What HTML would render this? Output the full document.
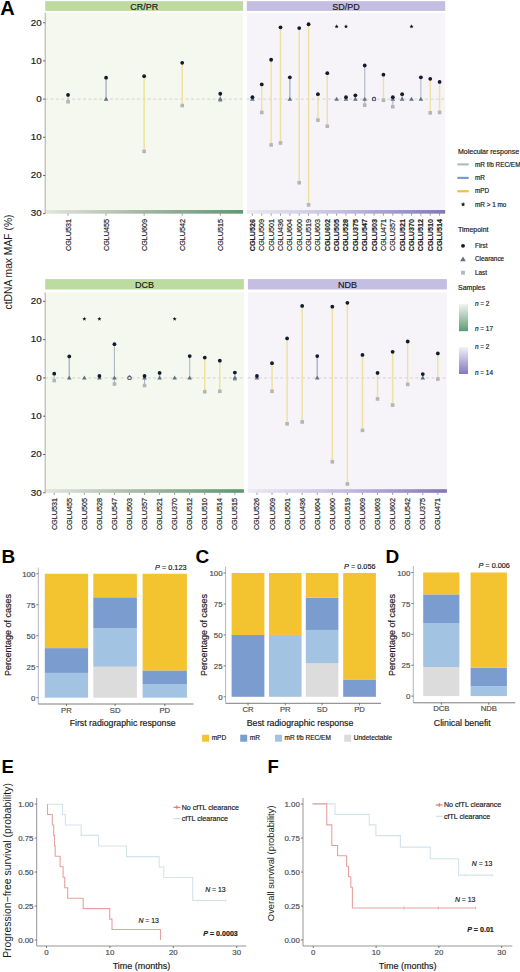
<!DOCTYPE html><html><head><meta charset="utf-8"><style>html,body{margin:0;padding:0;background:#fff;width:520px;height:972px;overflow:hidden}svg{display:block}</style></head><body><svg width="520" height="972" viewBox="0 0 520 972" font-family='"Liberation Sans", sans-serif'>
<defs><linearGradient id="gg" x1="0" x2="1" y1="0" y2="0"><stop offset="0" stop-color="#e3e6df"/><stop offset="0.5" stop-color="#a3b5a1"/><stop offset="1" stop-color="#5c9872"/></linearGradient><linearGradient id="gp" x1="0" x2="1" y1="0" y2="0"><stop offset="0" stop-color="#eceaf4"/><stop offset="0.5" stop-color="#c0bbe0"/><stop offset="1" stop-color="#7f76bd"/></linearGradient><linearGradient id="lg" x1="0" x2="0" y1="0" y2="1"><stop offset="0" stop-color="#f2f4f2"/><stop offset="1" stop-color="#5e9b74"/></linearGradient><linearGradient id="lp" x1="0" x2="0" y1="0" y2="1"><stop offset="0" stop-color="#f2f1f7"/><stop offset="1" stop-color="#8278bf"/></linearGradient></defs>
<rect x="0.00" y="0.00" width="520.00" height="972.00" fill="#ffffff" />
<text x="0.30" y="15.20" font-size="20" text-anchor="start" font-weight="bold" fill="#000" stroke="#000" stroke-width="0" >A</text>
<rect x="45.20" y="1.15" width="197.90" height="9.75" fill="#bddb9f" />
<text x="144.15" y="9.52" font-size="9" text-anchor="middle" font-weight="normal" fill="#1a1a1a" stroke="#1a1a1a" stroke-width="0.18" >CR/PR</text>
<rect x="45.20" y="12.80" width="197.90" height="200.84" fill="#f5f8ee" />
<rect x="45.20" y="210.04" width="197.90" height="3.60" fill="url(#gg)" />
<line x1="45.20" y1="99.10" x2="243.10" y2="99.10" stroke="#cbcbc6" stroke-width="0.8" stroke-dasharray="3,2.4"/>
<line x1="68.03" y1="213.64" x2="68.03" y2="215.64" stroke="#555" stroke-width="0.6" />
<text transform="translate(70.51,218.94) rotate(-90)" font-size="7.2" text-anchor="end" font-weight="normal" fill="#1a1a1a" stroke="#1a1a1a" stroke-width="0.18">CGLU531</text>
<line x1="68.03" y1="94.90" x2="68.03" y2="101.77" stroke="#b0bac6" stroke-width="1.1" />
<rect x="66.23" y="99.97" width="3.60" height="3.60" fill="#b2b6ba" />
<circle cx="68.03" cy="94.90" r="1.9" fill="#111a2e"/>
<line x1="106.09" y1="213.64" x2="106.09" y2="215.64" stroke="#555" stroke-width="0.6" />
<text transform="translate(108.57,218.94) rotate(-90)" font-size="7.2" text-anchor="end" font-weight="normal" fill="#1a1a1a" stroke="#1a1a1a" stroke-width="0.18">CGLU455</text>
<line x1="106.09" y1="77.72" x2="106.09" y2="99.10" stroke="#aeb7ca" stroke-width="1.5" />
<path d="M103.79,100.80 L108.39,100.80 L106.09,96.80 Z" fill="#5d7480"/>
<circle cx="106.09" cy="77.72" r="1.9" fill="#111a2e"/>
<line x1="144.15" y1="213.64" x2="144.15" y2="215.64" stroke="#555" stroke-width="0.6" />
<text transform="translate(146.63,218.94) rotate(-90)" font-size="7.2" text-anchor="end" font-weight="normal" fill="#1a1a1a" stroke="#1a1a1a" stroke-width="0.18">CGLU609</text>
<line x1="144.15" y1="76.19" x2="144.15" y2="151.41" stroke="#efe2a0" stroke-width="1.5" />
<rect x="142.35" y="149.61" width="3.60" height="3.60" fill="#b2b6ba" />
<circle cx="144.15" cy="76.19" r="1.9" fill="#111a2e"/>
<line x1="182.21" y1="213.64" x2="182.21" y2="215.64" stroke="#555" stroke-width="0.6" />
<text transform="translate(184.68,218.94) rotate(-90)" font-size="7.2" text-anchor="end" font-weight="normal" fill="#1a1a1a" stroke="#1a1a1a" stroke-width="0.18">CGLU542</text>
<line x1="182.21" y1="62.83" x2="182.21" y2="105.59" stroke="#efe2a0" stroke-width="1.5" />
<rect x="180.41" y="103.79" width="3.60" height="3.60" fill="#b2b6ba" />
<circle cx="182.21" cy="62.83" r="1.9" fill="#111a2e"/>
<line x1="220.27" y1="213.64" x2="220.27" y2="215.64" stroke="#555" stroke-width="0.6" />
<text transform="translate(222.74,218.94) rotate(-90)" font-size="7.2" text-anchor="end" font-weight="normal" fill="#1a1a1a" stroke="#1a1a1a" stroke-width="0.18">CGLU515</text>
<line x1="220.27" y1="93.75" x2="220.27" y2="100.25" stroke="#b0bac6" stroke-width="1.1" />
<rect x="218.47" y="98.45" width="3.60" height="3.60" fill="#b2b6ba" />
<path d="M217.97,100.80 L222.57,100.80 L220.27,96.80 Z" fill="#5d7480"/>
<circle cx="220.27" cy="93.75" r="1.9" fill="#111a2e"/>
<rect x="246.80" y="1.15" width="198.40" height="9.75" fill="#c4bee2" />
<text x="346.00" y="9.52" font-size="9" text-anchor="middle" font-weight="normal" fill="#1a1a1a" stroke="#1a1a1a" stroke-width="0.18" >SD/PD</text>
<rect x="246.80" y="12.80" width="198.40" height="200.84" fill="#f6f4f9" />
<rect x="246.80" y="210.04" width="198.40" height="3.60" fill="url(#gp)" />
<line x1="246.80" y1="99.10" x2="445.20" y2="99.10" stroke="#cbcbc6" stroke-width="0.8" stroke-dasharray="3,2.4"/>
<line x1="252.42" y1="213.64" x2="252.42" y2="215.64" stroke="#555" stroke-width="0.6" />
<text transform="translate(254.89,218.94) rotate(-90)" font-size="7.2" text-anchor="end" font-weight="bold" fill="#1a1a1a" stroke="#1a1a1a" stroke-width="0.18">CGLU526</text>
<line x1="252.42" y1="97.19" x2="252.42" y2="99.10" stroke="#aeb7ca" stroke-width="1.5" />
<path d="M250.12,100.80 L254.72,100.80 L252.42,96.80 Z" fill="#5d7480"/>
<circle cx="252.42" cy="97.19" r="1.9" fill="#111a2e"/>
<line x1="261.77" y1="213.64" x2="261.77" y2="215.64" stroke="#555" stroke-width="0.6" />
<text transform="translate(264.25,218.94) rotate(-90)" font-size="7.2" text-anchor="end" font-weight="normal" fill="#1a1a1a" stroke="#1a1a1a" stroke-width="0.18">CGLU509</text>
<line x1="261.77" y1="84.40" x2="261.77" y2="112.46" stroke="#efe2a0" stroke-width="1.5" />
<rect x="259.97" y="110.66" width="3.60" height="3.60" fill="#b2b6ba" />
<circle cx="261.77" cy="84.40" r="1.9" fill="#111a2e"/>
<line x1="271.13" y1="213.64" x2="271.13" y2="215.64" stroke="#555" stroke-width="0.6" />
<text transform="translate(273.61,218.94) rotate(-90)" font-size="7.2" text-anchor="end" font-weight="normal" fill="#1a1a1a" stroke="#1a1a1a" stroke-width="0.18">CGLU501</text>
<line x1="271.13" y1="59.77" x2="271.13" y2="144.92" stroke="#efe2a0" stroke-width="1.5" />
<rect x="269.33" y="143.12" width="3.60" height="3.60" fill="#b2b6ba" />
<circle cx="271.13" cy="59.77" r="1.9" fill="#111a2e"/>
<line x1="280.49" y1="213.64" x2="280.49" y2="215.64" stroke="#555" stroke-width="0.6" />
<text transform="translate(282.97,218.94) rotate(-90)" font-size="7.2" text-anchor="end" font-weight="normal" fill="#1a1a1a" stroke="#1a1a1a" stroke-width="0.18">CGLU436</text>
<line x1="280.49" y1="27.32" x2="280.49" y2="143.01" stroke="#efe2a0" stroke-width="1.5" />
<rect x="278.69" y="141.21" width="3.60" height="3.60" fill="#b2b6ba" />
<circle cx="280.49" cy="27.32" r="1.9" fill="#111a2e"/>
<line x1="289.85" y1="213.64" x2="289.85" y2="215.64" stroke="#555" stroke-width="0.6" />
<text transform="translate(292.33,218.94) rotate(-90)" font-size="7.2" text-anchor="end" font-weight="normal" fill="#1a1a1a" stroke="#1a1a1a" stroke-width="0.18">CGLU604</text>
<line x1="289.85" y1="77.34" x2="289.85" y2="99.10" stroke="#aeb7ca" stroke-width="1.5" />
<path d="M287.55,100.80 L292.15,100.80 L289.85,96.80 Z" fill="#5d7480"/>
<circle cx="289.85" cy="77.34" r="1.9" fill="#111a2e"/>
<line x1="299.21" y1="213.64" x2="299.21" y2="215.64" stroke="#555" stroke-width="0.6" />
<text transform="translate(301.68,218.94) rotate(-90)" font-size="7.2" text-anchor="end" font-weight="normal" fill="#1a1a1a" stroke="#1a1a1a" stroke-width="0.18">CGLU600</text>
<line x1="299.21" y1="28.09" x2="299.21" y2="182.71" stroke="#efe2a0" stroke-width="1.5" />
<rect x="297.41" y="180.91" width="3.60" height="3.60" fill="#b2b6ba" />
<circle cx="299.21" cy="28.09" r="1.9" fill="#111a2e"/>
<line x1="308.57" y1="213.64" x2="308.57" y2="215.64" stroke="#555" stroke-width="0.6" />
<text transform="translate(311.04,218.94) rotate(-90)" font-size="7.2" text-anchor="end" font-weight="normal" fill="#1a1a1a" stroke="#1a1a1a" stroke-width="0.18">CGLU519</text>
<line x1="308.57" y1="24.27" x2="308.57" y2="204.86" stroke="#efe2a0" stroke-width="1.5" />
<rect x="306.77" y="203.06" width="3.60" height="3.60" fill="#b2b6ba" />
<circle cx="308.57" cy="24.27" r="1.9" fill="#111a2e"/>
<line x1="317.92" y1="213.64" x2="317.92" y2="215.64" stroke="#555" stroke-width="0.6" />
<text transform="translate(320.40,218.94) rotate(-90)" font-size="7.2" text-anchor="end" font-weight="normal" fill="#1a1a1a" stroke="#1a1a1a" stroke-width="0.18">CGLU603</text>
<line x1="317.92" y1="94.14" x2="317.92" y2="120.10" stroke="#efe2a0" stroke-width="1.5" />
<rect x="316.12" y="118.30" width="3.60" height="3.60" fill="#b2b6ba" />
<circle cx="317.92" cy="94.14" r="1.9" fill="#111a2e"/>
<line x1="327.28" y1="213.64" x2="327.28" y2="215.64" stroke="#555" stroke-width="0.6" />
<text transform="translate(329.76,218.94) rotate(-90)" font-size="7.2" text-anchor="end" font-weight="bold" fill="#1a1a1a" stroke="#1a1a1a" stroke-width="0.18">CGLU602</text>
<line x1="327.28" y1="73.14" x2="327.28" y2="126.21" stroke="#efe2a0" stroke-width="1.5" />
<rect x="325.48" y="124.41" width="3.60" height="3.60" fill="#b2b6ba" />
<circle cx="327.28" cy="73.14" r="1.9" fill="#111a2e"/>
<line x1="336.64" y1="213.64" x2="336.64" y2="215.64" stroke="#555" stroke-width="0.6" />
<text transform="translate(339.12,218.94) rotate(-90)" font-size="7.2" text-anchor="end" font-weight="bold" fill="#1a1a1a" stroke="#1a1a1a" stroke-width="0.18">CGLU505</text>
<path d="M334.34,100.80 L338.94,100.80 L336.64,96.80 Z" fill="#5d7480"/>
<path d="M336.64,24.36 L337.20,25.79 L338.73,25.88 L337.55,26.85 L337.93,28.34 L336.64,27.51 L335.35,28.34 L335.74,26.85 L334.55,25.88 L336.08,25.79 Z" fill="#111"/>
<line x1="346.00" y1="213.64" x2="346.00" y2="215.64" stroke="#555" stroke-width="0.6" />
<text transform="translate(348.48,218.94) rotate(-90)" font-size="7.2" text-anchor="end" font-weight="bold" fill="#1a1a1a" stroke="#1a1a1a" stroke-width="0.18">CGLU528</text>
<path d="M343.70,100.80 L348.30,100.80 L346.00,96.80 Z" fill="#5d7480"/>
<circle cx="346.00" cy="97.19" r="1.9" fill="#111a2e"/>
<path d="M346.00,24.36 L346.56,25.79 L348.09,25.88 L346.90,26.85 L347.29,28.34 L346.00,27.51 L344.71,28.34 L345.10,26.85 L343.91,25.88 L345.44,25.79 Z" fill="#111"/>
<line x1="355.36" y1="213.64" x2="355.36" y2="215.64" stroke="#555" stroke-width="0.6" />
<text transform="translate(357.84,218.94) rotate(-90)" font-size="7.2" text-anchor="end" font-weight="bold" fill="#1a1a1a" stroke="#1a1a1a" stroke-width="0.18">CGLU375</text>
<line x1="355.36" y1="95.28" x2="355.36" y2="99.10" stroke="#aeb7ca" stroke-width="1.5" />
<path d="M353.06,100.80 L357.66,100.80 L355.36,96.80 Z" fill="#5d7480"/>
<circle cx="355.36" cy="95.28" r="1.9" fill="#111a2e"/>
<line x1="364.72" y1="213.64" x2="364.72" y2="215.64" stroke="#555" stroke-width="0.6" />
<text transform="translate(367.19,218.94) rotate(-90)" font-size="7.2" text-anchor="end" font-weight="bold" fill="#1a1a1a" stroke="#1a1a1a" stroke-width="0.18">CGLU547</text>
<line x1="364.72" y1="65.50" x2="364.72" y2="105.21" stroke="#b0bac6" stroke-width="1.1" />
<rect x="362.92" y="103.41" width="3.60" height="3.60" fill="#b2b6ba" />
<path d="M362.42,100.80 L367.02,100.80 L364.72,96.80 Z" fill="#5d7480"/>
<circle cx="364.72" cy="65.50" r="1.9" fill="#111a2e"/>
<line x1="374.08" y1="213.64" x2="374.08" y2="215.64" stroke="#555" stroke-width="0.6" />
<text transform="translate(376.55,218.94) rotate(-90)" font-size="7.2" text-anchor="end" font-weight="bold" fill="#1a1a1a" stroke="#1a1a1a" stroke-width="0.18">CGLU503</text>
<path d="M371.78,100.80 L376.38,100.80 L374.08,96.80 Z" fill="#5d7480"/>
<circle cx="374.08" cy="98.72" r="1.9" fill="#111a2e"/>
<circle cx="374.08" cy="99.10" r="2.1" fill="#5a6070"/>
<circle cx="374.08" cy="99.10" r="1.2" fill="#e4e4ea"/>
<line x1="383.43" y1="213.64" x2="383.43" y2="215.64" stroke="#555" stroke-width="0.6" />
<text transform="translate(385.91,218.94) rotate(-90)" font-size="7.2" text-anchor="end" font-weight="normal" fill="#1a1a1a" stroke="#1a1a1a" stroke-width="0.18">CGLU471</text>
<line x1="383.43" y1="74.66" x2="383.43" y2="100.25" stroke="#efe2a0" stroke-width="1.5" />
<rect x="381.63" y="98.45" width="3.60" height="3.60" fill="#b2b6ba" />
<circle cx="383.43" cy="74.66" r="1.9" fill="#111a2e"/>
<line x1="392.79" y1="213.64" x2="392.79" y2="215.64" stroke="#555" stroke-width="0.6" />
<text transform="translate(395.27,218.94) rotate(-90)" font-size="7.2" text-anchor="end" font-weight="normal" fill="#1a1a1a" stroke="#1a1a1a" stroke-width="0.18">CGLU357</text>
<line x1="392.79" y1="97.19" x2="392.79" y2="106.74" stroke="#b0bac6" stroke-width="1.1" />
<rect x="390.99" y="104.94" width="3.60" height="3.60" fill="#b2b6ba" />
<path d="M390.49,100.80 L395.09,100.80 L392.79,96.80 Z" fill="#5d7480"/>
<circle cx="392.79" cy="97.19" r="1.9" fill="#111a2e"/>
<line x1="402.15" y1="213.64" x2="402.15" y2="215.64" stroke="#555" stroke-width="0.6" />
<text transform="translate(404.63,218.94) rotate(-90)" font-size="7.2" text-anchor="end" font-weight="bold" fill="#1a1a1a" stroke="#1a1a1a" stroke-width="0.18">CGLU521</text>
<line x1="402.15" y1="94.14" x2="402.15" y2="99.10" stroke="#aeb7ca" stroke-width="1.5" />
<path d="M399.85,100.80 L404.45,100.80 L402.15,96.80 Z" fill="#5d7480"/>
<circle cx="402.15" cy="94.14" r="1.9" fill="#111a2e"/>
<line x1="411.51" y1="213.64" x2="411.51" y2="215.64" stroke="#555" stroke-width="0.6" />
<text transform="translate(413.99,218.94) rotate(-90)" font-size="7.2" text-anchor="end" font-weight="bold" fill="#1a1a1a" stroke="#1a1a1a" stroke-width="0.18">CGLU370</text>
<path d="M409.21,100.80 L413.81,100.80 L411.51,96.80 Z" fill="#5d7480"/>
<path d="M411.51,24.36 L412.07,25.79 L413.60,25.88 L412.41,26.85 L412.80,28.34 L411.51,27.51 L410.22,28.34 L410.61,26.85 L409.42,25.88 L410.95,25.79 Z" fill="#111"/>
<line x1="420.87" y1="213.64" x2="420.87" y2="215.64" stroke="#555" stroke-width="0.6" />
<text transform="translate(423.34,218.94) rotate(-90)" font-size="7.2" text-anchor="end" font-weight="bold" fill="#1a1a1a" stroke="#1a1a1a" stroke-width="0.18">CGLU512</text>
<line x1="420.87" y1="77.34" x2="420.87" y2="99.10" stroke="#b0bac6" stroke-width="1.1" />
<path d="M418.57,100.80 L423.17,100.80 L420.87,96.80 Z" fill="#5d7480"/>
<circle cx="420.87" cy="77.34" r="1.9" fill="#111a2e"/>
<line x1="430.23" y1="213.64" x2="430.23" y2="215.64" stroke="#555" stroke-width="0.6" />
<text transform="translate(432.70,218.94) rotate(-90)" font-size="7.2" text-anchor="end" font-weight="bold" fill="#1a1a1a" stroke="#1a1a1a" stroke-width="0.18">CGLU510</text>
<line x1="430.23" y1="78.86" x2="430.23" y2="112.84" stroke="#efe2a0" stroke-width="1.5" />
<rect x="428.43" y="111.04" width="3.60" height="3.60" fill="#b2b6ba" />
<circle cx="430.23" cy="78.86" r="1.9" fill="#111a2e"/>
<line x1="439.58" y1="213.64" x2="439.58" y2="215.64" stroke="#555" stroke-width="0.6" />
<text transform="translate(442.06,218.94) rotate(-90)" font-size="7.2" text-anchor="end" font-weight="bold" fill="#1a1a1a" stroke="#1a1a1a" stroke-width="0.18">CGLU514</text>
<line x1="439.58" y1="81.92" x2="439.58" y2="112.46" stroke="#efe2a0" stroke-width="1.5" />
<rect x="437.78" y="110.66" width="3.60" height="3.60" fill="#b2b6ba" />
<circle cx="439.58" cy="81.92" r="1.9" fill="#111a2e"/>
<line x1="45.20" y1="12.80" x2="45.20" y2="213.64" stroke="#9a9a9a" stroke-width="0.8" />
<line x1="43.20" y1="22.74" x2="45.20" y2="22.74" stroke="#333" stroke-width="0.8" />
<text x="41.60" y="25.51" font-size="9.8" text-anchor="end" font-weight="normal" fill="#1a1a1a" stroke="#1a1a1a" stroke-width="0.18" >20</text>
<line x1="43.20" y1="60.92" x2="45.20" y2="60.92" stroke="#333" stroke-width="0.8" />
<text x="41.60" y="63.69" font-size="9.8" text-anchor="end" font-weight="normal" fill="#1a1a1a" stroke="#1a1a1a" stroke-width="0.18" >10</text>
<line x1="43.20" y1="99.10" x2="45.20" y2="99.10" stroke="#333" stroke-width="0.8" />
<text x="41.60" y="101.87" font-size="9.8" text-anchor="end" font-weight="normal" fill="#1a1a1a" stroke="#1a1a1a" stroke-width="0.18" >0</text>
<line x1="43.20" y1="137.28" x2="45.20" y2="137.28" stroke="#333" stroke-width="0.8" />
<text x="41.60" y="140.05" font-size="9.8" text-anchor="end" font-weight="normal" fill="#1a1a1a" stroke="#1a1a1a" stroke-width="0.18" >10</text>
<line x1="43.20" y1="175.46" x2="45.20" y2="175.46" stroke="#333" stroke-width="0.8" />
<text x="41.60" y="178.23" font-size="9.8" text-anchor="end" font-weight="normal" fill="#1a1a1a" stroke="#1a1a1a" stroke-width="0.18" >20</text>
<line x1="43.20" y1="213.64" x2="45.20" y2="213.64" stroke="#333" stroke-width="0.8" />
<text x="41.60" y="216.41" font-size="9.8" text-anchor="end" font-weight="normal" fill="#1a1a1a" stroke="#1a1a1a" stroke-width="0.18" >30</text>
<rect x="45.20" y="279.10" width="198.70" height="10.40" fill="#bddb9f" />
<text x="144.55" y="287.80" font-size="9" text-anchor="middle" font-weight="normal" fill="#1a1a1a" stroke="#1a1a1a" stroke-width="0.18" >DCB</text>
<rect x="45.20" y="292.50" width="198.70" height="200.30" fill="#f5f8ee" />
<rect x="45.20" y="489.20" width="198.70" height="3.60" fill="url(#gg)" />
<line x1="45.20" y1="377.90" x2="243.90" y2="377.90" stroke="#cbcbc6" stroke-width="0.8" stroke-dasharray="3,2.4"/>
<line x1="54.23" y1="492.80" x2="54.23" y2="494.80" stroke="#555" stroke-width="0.6" />
<text transform="translate(56.71,498.10) rotate(-90)" font-size="7.2" text-anchor="end" font-weight="normal" fill="#1a1a1a" stroke="#1a1a1a" stroke-width="0.18">CGLU531</text>
<line x1="54.23" y1="373.69" x2="54.23" y2="380.58" stroke="#b0bac6" stroke-width="1.1" />
<rect x="52.43" y="378.78" width="3.60" height="3.60" fill="#b2b6ba" />
<circle cx="54.23" cy="373.69" r="1.9" fill="#111a2e"/>
<line x1="69.28" y1="492.80" x2="69.28" y2="494.80" stroke="#555" stroke-width="0.6" />
<text transform="translate(71.76,498.10) rotate(-90)" font-size="7.2" text-anchor="end" font-weight="normal" fill="#1a1a1a" stroke="#1a1a1a" stroke-width="0.18">CGLU455</text>
<line x1="69.28" y1="356.45" x2="69.28" y2="377.90" stroke="#aeb7ca" stroke-width="1.5" />
<path d="M66.98,379.60 L71.58,379.60 L69.28,375.60 Z" fill="#5d7480"/>
<circle cx="69.28" cy="356.45" r="1.9" fill="#111a2e"/>
<line x1="84.34" y1="492.80" x2="84.34" y2="494.80" stroke="#555" stroke-width="0.6" />
<text transform="translate(86.81,498.10) rotate(-90)" font-size="7.2" text-anchor="end" font-weight="normal" fill="#1a1a1a" stroke="#1a1a1a" stroke-width="0.18">CGLU505</text>
<path d="M82.04,379.60 L86.64,379.60 L84.34,375.60 Z" fill="#5d7480"/>
<path d="M84.34,316.72 L84.90,318.15 L86.43,318.24 L85.24,319.21 L85.63,320.70 L84.34,319.87 L83.04,320.70 L83.43,319.21 L82.25,318.24 L83.78,318.15 Z" fill="#111"/>
<line x1="99.39" y1="492.80" x2="99.39" y2="494.80" stroke="#555" stroke-width="0.6" />
<text transform="translate(101.87,498.10) rotate(-90)" font-size="7.2" text-anchor="end" font-weight="normal" fill="#1a1a1a" stroke="#1a1a1a" stroke-width="0.18">CGLU528</text>
<path d="M97.09,379.60 L101.69,379.60 L99.39,375.60 Z" fill="#5d7480"/>
<circle cx="99.39" cy="375.98" r="1.9" fill="#111a2e"/>
<path d="M99.39,316.72 L99.95,318.15 L101.48,318.24 L100.29,319.21 L100.68,320.70 L99.39,319.87 L98.10,320.70 L98.49,319.21 L97.30,318.24 L98.83,318.15 Z" fill="#111"/>
<line x1="114.44" y1="492.80" x2="114.44" y2="494.80" stroke="#555" stroke-width="0.6" />
<text transform="translate(116.92,498.10) rotate(-90)" font-size="7.2" text-anchor="end" font-weight="normal" fill="#1a1a1a" stroke="#1a1a1a" stroke-width="0.18">CGLU547</text>
<line x1="114.44" y1="344.20" x2="114.44" y2="384.03" stroke="#b0bac6" stroke-width="1.1" />
<rect x="112.64" y="382.23" width="3.60" height="3.60" fill="#b2b6ba" />
<path d="M112.14,379.60 L116.74,379.60 L114.44,375.60 Z" fill="#5d7480"/>
<circle cx="114.44" cy="344.20" r="1.9" fill="#111a2e"/>
<line x1="129.50" y1="492.80" x2="129.50" y2="494.80" stroke="#555" stroke-width="0.6" />
<text transform="translate(131.97,498.10) rotate(-90)" font-size="7.2" text-anchor="end" font-weight="normal" fill="#1a1a1a" stroke="#1a1a1a" stroke-width="0.18">CGLU503</text>
<path d="M127.20,379.60 L131.80,379.60 L129.50,375.60 Z" fill="#5d7480"/>
<circle cx="129.50" cy="377.52" r="1.9" fill="#111a2e"/>
<circle cx="129.50" cy="377.90" r="2.1" fill="#5a6070"/>
<circle cx="129.50" cy="377.90" r="1.2" fill="#e4e4ea"/>
<line x1="144.55" y1="492.80" x2="144.55" y2="494.80" stroke="#555" stroke-width="0.6" />
<text transform="translate(147.03,498.10) rotate(-90)" font-size="7.2" text-anchor="end" font-weight="normal" fill="#1a1a1a" stroke="#1a1a1a" stroke-width="0.18">CGLU357</text>
<line x1="144.55" y1="375.98" x2="144.55" y2="385.56" stroke="#b0bac6" stroke-width="1.1" />
<rect x="142.75" y="383.76" width="3.60" height="3.60" fill="#b2b6ba" />
<path d="M142.25,379.60 L146.85,379.60 L144.55,375.60 Z" fill="#5d7480"/>
<circle cx="144.55" cy="375.98" r="1.9" fill="#111a2e"/>
<line x1="159.60" y1="492.80" x2="159.60" y2="494.80" stroke="#555" stroke-width="0.6" />
<text transform="translate(162.08,498.10) rotate(-90)" font-size="7.2" text-anchor="end" font-weight="normal" fill="#1a1a1a" stroke="#1a1a1a" stroke-width="0.18">CGLU521</text>
<line x1="159.60" y1="372.92" x2="159.60" y2="377.90" stroke="#aeb7ca" stroke-width="1.5" />
<path d="M157.30,379.60 L161.90,379.60 L159.60,375.60 Z" fill="#5d7480"/>
<circle cx="159.60" cy="372.92" r="1.9" fill="#111a2e"/>
<line x1="174.66" y1="492.80" x2="174.66" y2="494.80" stroke="#555" stroke-width="0.6" />
<text transform="translate(177.13,498.10) rotate(-90)" font-size="7.2" text-anchor="end" font-weight="normal" fill="#1a1a1a" stroke="#1a1a1a" stroke-width="0.18">CGLU370</text>
<path d="M172.36,379.60 L176.96,379.60 L174.66,375.60 Z" fill="#5d7480"/>
<path d="M174.66,316.72 L175.21,318.15 L176.75,318.24 L175.56,319.21 L175.95,320.70 L174.66,319.87 L173.36,320.70 L173.75,319.21 L172.56,318.24 L174.10,318.15 Z" fill="#111"/>
<line x1="189.71" y1="492.80" x2="189.71" y2="494.80" stroke="#555" stroke-width="0.6" />
<text transform="translate(192.19,498.10) rotate(-90)" font-size="7.2" text-anchor="end" font-weight="normal" fill="#1a1a1a" stroke="#1a1a1a" stroke-width="0.18">CGLU512</text>
<line x1="189.71" y1="356.07" x2="189.71" y2="377.90" stroke="#b0bac6" stroke-width="1.1" />
<path d="M187.41,379.60 L192.01,379.60 L189.71,375.60 Z" fill="#5d7480"/>
<circle cx="189.71" cy="356.07" r="1.9" fill="#111a2e"/>
<line x1="204.76" y1="492.80" x2="204.76" y2="494.80" stroke="#555" stroke-width="0.6" />
<text transform="translate(207.24,498.10) rotate(-90)" font-size="7.2" text-anchor="end" font-weight="normal" fill="#1a1a1a" stroke="#1a1a1a" stroke-width="0.18">CGLU510</text>
<line x1="204.76" y1="357.60" x2="204.76" y2="391.69" stroke="#efe2a0" stroke-width="1.5" />
<rect x="202.96" y="389.89" width="3.60" height="3.60" fill="#b2b6ba" />
<circle cx="204.76" cy="357.60" r="1.9" fill="#111a2e"/>
<line x1="219.82" y1="492.80" x2="219.82" y2="494.80" stroke="#555" stroke-width="0.6" />
<text transform="translate(222.29,498.10) rotate(-90)" font-size="7.2" text-anchor="end" font-weight="normal" fill="#1a1a1a" stroke="#1a1a1a" stroke-width="0.18">CGLU514</text>
<line x1="219.82" y1="360.66" x2="219.82" y2="391.30" stroke="#efe2a0" stroke-width="1.5" />
<rect x="218.02" y="389.50" width="3.60" height="3.60" fill="#b2b6ba" />
<circle cx="219.82" cy="360.66" r="1.9" fill="#111a2e"/>
<line x1="234.87" y1="492.80" x2="234.87" y2="494.80" stroke="#555" stroke-width="0.6" />
<text transform="translate(237.34,498.10) rotate(-90)" font-size="7.2" text-anchor="end" font-weight="normal" fill="#1a1a1a" stroke="#1a1a1a" stroke-width="0.18">CGLU515</text>
<line x1="234.87" y1="372.54" x2="234.87" y2="379.05" stroke="#b0bac6" stroke-width="1.1" />
<rect x="233.07" y="377.25" width="3.60" height="3.60" fill="#b2b6ba" />
<path d="M232.57,379.60 L237.17,379.60 L234.87,375.60 Z" fill="#5d7480"/>
<circle cx="234.87" cy="372.54" r="1.9" fill="#111a2e"/>
<rect x="247.90" y="279.10" width="199.00" height="10.40" fill="#c4bee2" />
<text x="347.40" y="287.80" font-size="9" text-anchor="middle" font-weight="normal" fill="#1a1a1a" stroke="#1a1a1a" stroke-width="0.18" >NDB</text>
<rect x="247.90" y="292.50" width="199.00" height="200.30" fill="#f6f4f9" />
<rect x="247.90" y="489.20" width="199.00" height="3.60" fill="url(#gp)" />
<line x1="247.90" y1="377.90" x2="446.90" y2="377.90" stroke="#cbcbc6" stroke-width="0.8" stroke-dasharray="3,2.4"/>
<line x1="256.95" y1="492.80" x2="256.95" y2="494.80" stroke="#555" stroke-width="0.6" />
<text transform="translate(259.42,498.10) rotate(-90)" font-size="7.2" text-anchor="end" font-weight="normal" fill="#1a1a1a" stroke="#1a1a1a" stroke-width="0.18">CGLU526</text>
<line x1="256.95" y1="375.98" x2="256.95" y2="377.90" stroke="#aeb7ca" stroke-width="1.5" />
<path d="M254.65,379.60 L259.25,379.60 L256.95,375.60 Z" fill="#5d7480"/>
<circle cx="256.95" cy="375.98" r="1.9" fill="#111a2e"/>
<line x1="272.02" y1="492.80" x2="272.02" y2="494.80" stroke="#555" stroke-width="0.6" />
<text transform="translate(274.50,498.10) rotate(-90)" font-size="7.2" text-anchor="end" font-weight="normal" fill="#1a1a1a" stroke="#1a1a1a" stroke-width="0.18">CGLU509</text>
<line x1="272.02" y1="363.15" x2="272.02" y2="391.30" stroke="#efe2a0" stroke-width="1.5" />
<rect x="270.22" y="389.50" width="3.60" height="3.60" fill="#b2b6ba" />
<circle cx="272.02" cy="363.15" r="1.9" fill="#111a2e"/>
<line x1="287.10" y1="492.80" x2="287.10" y2="494.80" stroke="#555" stroke-width="0.6" />
<text transform="translate(289.57,498.10) rotate(-90)" font-size="7.2" text-anchor="end" font-weight="normal" fill="#1a1a1a" stroke="#1a1a1a" stroke-width="0.18">CGLU501</text>
<line x1="287.10" y1="338.45" x2="287.10" y2="423.86" stroke="#efe2a0" stroke-width="1.5" />
<rect x="285.30" y="422.06" width="3.60" height="3.60" fill="#b2b6ba" />
<circle cx="287.10" cy="338.45" r="1.9" fill="#111a2e"/>
<line x1="302.17" y1="492.80" x2="302.17" y2="494.80" stroke="#555" stroke-width="0.6" />
<text transform="translate(304.65,498.10) rotate(-90)" font-size="7.2" text-anchor="end" font-weight="normal" fill="#1a1a1a" stroke="#1a1a1a" stroke-width="0.18">CGLU436</text>
<line x1="302.17" y1="305.90" x2="302.17" y2="421.94" stroke="#efe2a0" stroke-width="1.5" />
<rect x="300.37" y="420.14" width="3.60" height="3.60" fill="#b2b6ba" />
<circle cx="302.17" cy="305.90" r="1.9" fill="#111a2e"/>
<line x1="317.25" y1="492.80" x2="317.25" y2="494.80" stroke="#555" stroke-width="0.6" />
<text transform="translate(319.73,498.10) rotate(-90)" font-size="7.2" text-anchor="end" font-weight="normal" fill="#1a1a1a" stroke="#1a1a1a" stroke-width="0.18">CGLU604</text>
<line x1="317.25" y1="356.07" x2="317.25" y2="377.90" stroke="#aeb7ca" stroke-width="1.5" />
<path d="M314.95,379.60 L319.55,379.60 L317.25,375.60 Z" fill="#5d7480"/>
<circle cx="317.25" cy="356.07" r="1.9" fill="#111a2e"/>
<line x1="332.32" y1="492.80" x2="332.32" y2="494.80" stroke="#555" stroke-width="0.6" />
<text transform="translate(334.80,498.10) rotate(-90)" font-size="7.2" text-anchor="end" font-weight="normal" fill="#1a1a1a" stroke="#1a1a1a" stroke-width="0.18">CGLU600</text>
<line x1="332.32" y1="306.66" x2="332.32" y2="461.78" stroke="#efe2a0" stroke-width="1.5" />
<rect x="330.52" y="459.98" width="3.60" height="3.60" fill="#b2b6ba" />
<circle cx="332.32" cy="306.66" r="1.9" fill="#111a2e"/>
<line x1="347.40" y1="492.80" x2="347.40" y2="494.80" stroke="#555" stroke-width="0.6" />
<text transform="translate(349.88,498.10) rotate(-90)" font-size="7.2" text-anchor="end" font-weight="normal" fill="#1a1a1a" stroke="#1a1a1a" stroke-width="0.18">CGLU519</text>
<line x1="347.40" y1="302.83" x2="347.40" y2="483.99" stroke="#efe2a0" stroke-width="1.5" />
<rect x="345.60" y="482.19" width="3.60" height="3.60" fill="#b2b6ba" />
<circle cx="347.40" cy="302.83" r="1.9" fill="#111a2e"/>
<line x1="362.48" y1="492.80" x2="362.48" y2="494.80" stroke="#555" stroke-width="0.6" />
<text transform="translate(364.95,498.10) rotate(-90)" font-size="7.2" text-anchor="end" font-weight="normal" fill="#1a1a1a" stroke="#1a1a1a" stroke-width="0.18">CGLU609</text>
<line x1="362.48" y1="354.92" x2="362.48" y2="430.37" stroke="#efe2a0" stroke-width="1.5" />
<rect x="360.68" y="428.57" width="3.60" height="3.60" fill="#b2b6ba" />
<circle cx="362.48" cy="354.92" r="1.9" fill="#111a2e"/>
<line x1="377.55" y1="492.80" x2="377.55" y2="494.80" stroke="#555" stroke-width="0.6" />
<text transform="translate(380.03,498.10) rotate(-90)" font-size="7.2" text-anchor="end" font-weight="normal" fill="#1a1a1a" stroke="#1a1a1a" stroke-width="0.18">CGLU603</text>
<line x1="377.55" y1="372.92" x2="377.55" y2="398.96" stroke="#efe2a0" stroke-width="1.5" />
<rect x="375.75" y="397.16" width="3.60" height="3.60" fill="#b2b6ba" />
<circle cx="377.55" cy="372.92" r="1.9" fill="#111a2e"/>
<line x1="392.63" y1="492.80" x2="392.63" y2="494.80" stroke="#555" stroke-width="0.6" />
<text transform="translate(395.10,498.10) rotate(-90)" font-size="7.2" text-anchor="end" font-weight="normal" fill="#1a1a1a" stroke="#1a1a1a" stroke-width="0.18">CGLU602</text>
<line x1="392.63" y1="351.86" x2="392.63" y2="405.09" stroke="#efe2a0" stroke-width="1.5" />
<rect x="390.83" y="403.29" width="3.60" height="3.60" fill="#b2b6ba" />
<circle cx="392.63" cy="351.86" r="1.9" fill="#111a2e"/>
<line x1="407.70" y1="492.80" x2="407.70" y2="494.80" stroke="#555" stroke-width="0.6" />
<text transform="translate(410.18,498.10) rotate(-90)" font-size="7.2" text-anchor="end" font-weight="normal" fill="#1a1a1a" stroke="#1a1a1a" stroke-width="0.18">CGLU542</text>
<line x1="407.70" y1="341.51" x2="407.70" y2="384.41" stroke="#efe2a0" stroke-width="1.5" />
<rect x="405.90" y="382.61" width="3.60" height="3.60" fill="#b2b6ba" />
<circle cx="407.70" cy="341.51" r="1.9" fill="#111a2e"/>
<line x1="422.78" y1="492.80" x2="422.78" y2="494.80" stroke="#555" stroke-width="0.6" />
<text transform="translate(425.26,498.10) rotate(-90)" font-size="7.2" text-anchor="end" font-weight="normal" fill="#1a1a1a" stroke="#1a1a1a" stroke-width="0.18">CGLU375</text>
<line x1="422.78" y1="374.07" x2="422.78" y2="377.90" stroke="#aeb7ca" stroke-width="1.5" />
<path d="M420.48,379.60 L425.08,379.60 L422.78,375.60 Z" fill="#5d7480"/>
<circle cx="422.78" cy="374.07" r="1.9" fill="#111a2e"/>
<line x1="437.85" y1="492.80" x2="437.85" y2="494.80" stroke="#555" stroke-width="0.6" />
<text transform="translate(440.33,498.10) rotate(-90)" font-size="7.2" text-anchor="end" font-weight="normal" fill="#1a1a1a" stroke="#1a1a1a" stroke-width="0.18">CGLU471</text>
<line x1="437.85" y1="353.39" x2="437.85" y2="379.05" stroke="#efe2a0" stroke-width="1.5" />
<rect x="436.05" y="377.25" width="3.60" height="3.60" fill="#b2b6ba" />
<circle cx="437.85" cy="353.39" r="1.9" fill="#111a2e"/>
<line x1="45.20" y1="292.50" x2="45.20" y2="492.80" stroke="#9a9a9a" stroke-width="0.8" />
<line x1="43.20" y1="301.30" x2="45.20" y2="301.30" stroke="#333" stroke-width="0.8" />
<text x="41.60" y="304.07" font-size="9.8" text-anchor="end" font-weight="normal" fill="#1a1a1a" stroke="#1a1a1a" stroke-width="0.18" >20</text>
<line x1="43.20" y1="339.60" x2="45.20" y2="339.60" stroke="#333" stroke-width="0.8" />
<text x="41.60" y="342.37" font-size="9.8" text-anchor="end" font-weight="normal" fill="#1a1a1a" stroke="#1a1a1a" stroke-width="0.18" >10</text>
<line x1="43.20" y1="377.90" x2="45.20" y2="377.90" stroke="#333" stroke-width="0.8" />
<text x="41.60" y="380.67" font-size="9.8" text-anchor="end" font-weight="normal" fill="#1a1a1a" stroke="#1a1a1a" stroke-width="0.18" >0</text>
<line x1="43.20" y1="416.20" x2="45.20" y2="416.20" stroke="#333" stroke-width="0.8" />
<text x="41.60" y="418.97" font-size="9.8" text-anchor="end" font-weight="normal" fill="#1a1a1a" stroke="#1a1a1a" stroke-width="0.18" >10</text>
<line x1="43.20" y1="454.50" x2="45.20" y2="454.50" stroke="#333" stroke-width="0.8" />
<text x="41.60" y="457.27" font-size="9.8" text-anchor="end" font-weight="normal" fill="#1a1a1a" stroke="#1a1a1a" stroke-width="0.18" >20</text>
<line x1="43.20" y1="492.80" x2="45.20" y2="492.80" stroke="#333" stroke-width="0.8" />
<text x="41.60" y="495.57" font-size="9.8" text-anchor="end" font-weight="normal" fill="#1a1a1a" stroke="#1a1a1a" stroke-width="0.18" >30</text>
<text transform="translate(12.3,262) rotate(-90)" font-size="10.3" text-anchor="middle" fill="#1a1a1a">ctDNA max MAF (%)</text>
<text x="458.00" y="153.91" font-size="7" text-anchor="start" font-weight="normal" fill="#1a1a1a" stroke="#1a1a1a" stroke-width="0.18" >Molecular response</text>
<line x1="457.30" y1="164.40" x2="468.70" y2="164.40" stroke="#b0bac6" stroke-width="2.2" />
<text x="475.00" y="166.60" font-size="6.4" text-anchor="start" font-weight="normal" fill="#1a1a1a" stroke="#1a1a1a" stroke-width="0.18" >mR f/b REC/EM</text>
<line x1="457.30" y1="177.90" x2="468.70" y2="177.90" stroke="#7b9ccf" stroke-width="2.2" />
<text x="475.00" y="180.10" font-size="6.4" text-anchor="start" font-weight="normal" fill="#1a1a1a" stroke="#1a1a1a" stroke-width="0.18" >mR</text>
<line x1="457.30" y1="191.25" x2="468.70" y2="191.25" stroke="#eec040" stroke-width="2.2" />
<text x="475.00" y="193.45" font-size="6.4" text-anchor="start" font-weight="normal" fill="#1a1a1a" stroke="#1a1a1a" stroke-width="0.18" >mPD</text>
<path d="M463.10,202.00 L463.69,203.59 L465.38,203.66 L464.05,204.71 L464.51,206.34 L463.10,205.40 L461.69,206.34 L462.15,204.71 L460.82,203.66 L462.51,203.59 Z" fill="#111"/>
<text x="475.00" y="206.60" font-size="6.4" text-anchor="start" font-weight="normal" fill="#1a1a1a" stroke="#1a1a1a" stroke-width="0.18" >mR &gt; 1 mo</text>
<text x="458.00" y="231.71" font-size="7" text-anchor="start" font-weight="normal" fill="#1a1a1a" stroke="#1a1a1a" stroke-width="0.18" >Timepoint</text>
<circle cx="463" cy="245.8" r="1.9" fill="#111a2e"/>
<text x="475.00" y="248.00" font-size="6.4" text-anchor="start" font-weight="normal" fill="#1a1a1a" stroke="#1a1a1a" stroke-width="0.18" >First</text>
<path d="M460.2,261.2 L465.8,261.2 L463,256.4 Z" fill="#5d7480"/>
<text x="475.00" y="261.20" font-size="6.4" text-anchor="start" font-weight="normal" fill="#1a1a1a" stroke="#1a1a1a" stroke-width="0.18" >Clearance</text>
<rect x="461.10" y="270.80" width="3.80" height="3.80" fill="#b2b6ba" />
<text x="475.00" y="274.90" font-size="6.4" text-anchor="start" font-weight="normal" fill="#1a1a1a" stroke="#1a1a1a" stroke-width="0.18" >Last</text>
<text x="458.00" y="289.81" font-size="7" text-anchor="start" font-weight="normal" fill="#1a1a1a" stroke="#1a1a1a" stroke-width="0.18" >Samples</text>
<rect x="459.00" y="303.80" width="9.00" height="27.40" fill="url(#lg)" />
<text x="475.00" y="305.70" font-size="6.4" text-anchor="start" font-weight="normal" fill="#1a1a1a" stroke="#1a1a1a" stroke-width="0.18" ><tspan font-style="italic">n</tspan> = 2</text>
<text x="475.00" y="331.20" font-size="6.4" text-anchor="start" font-weight="normal" fill="#1a1a1a" stroke="#1a1a1a" stroke-width="0.18" ><tspan font-style="italic">n</tspan> = 17</text>
<rect x="459.00" y="347.00" width="9.00" height="27.00" fill="url(#lp)" />
<text x="475.00" y="348.70" font-size="6.4" text-anchor="start" font-weight="normal" fill="#1a1a1a" stroke="#1a1a1a" stroke-width="0.18" ><tspan font-style="italic">n</tspan> = 2</text>
<text x="475.00" y="375.20" font-size="6.4" text-anchor="start" font-weight="normal" fill="#1a1a1a" stroke="#1a1a1a" stroke-width="0.18" ><tspan font-style="italic">n</tspan> = 14</text>
<text x="1.50" y="562.80" font-size="19" text-anchor="start" font-weight="bold" fill="#000" stroke="#000" stroke-width="0" >B</text>
<line x1="38.30" y1="567.50" x2="38.30" y2="704.00" stroke="#a8abbd" stroke-width="0.9" />
<line x1="38.30" y1="704.00" x2="193.50" y2="704.00" stroke="#6e6e6e" stroke-width="0.9" />
<line x1="36.30" y1="697.70" x2="38.30" y2="697.70" stroke="#444" stroke-width="0.7" />
<text x="35.30" y="700.82" font-size="7.9" text-anchor="end" font-weight="normal" fill="#4d4d4d" stroke="#4d4d4d" stroke-width="0.18" >0</text>
<line x1="36.30" y1="666.71" x2="38.30" y2="666.71" stroke="#444" stroke-width="0.7" />
<text x="35.30" y="669.83" font-size="7.9" text-anchor="end" font-weight="normal" fill="#4d4d4d" stroke="#4d4d4d" stroke-width="0.18" >25</text>
<line x1="36.30" y1="635.73" x2="38.30" y2="635.73" stroke="#444" stroke-width="0.7" />
<text x="35.30" y="638.84" font-size="7.9" text-anchor="end" font-weight="normal" fill="#4d4d4d" stroke="#4d4d4d" stroke-width="0.18" >50</text>
<line x1="36.30" y1="604.74" x2="38.30" y2="604.74" stroke="#444" stroke-width="0.7" />
<text x="35.30" y="607.86" font-size="7.9" text-anchor="end" font-weight="normal" fill="#4d4d4d" stroke="#4d4d4d" stroke-width="0.18" >75</text>
<line x1="36.30" y1="573.75" x2="38.30" y2="573.75" stroke="#444" stroke-width="0.7" />
<text x="35.30" y="576.87" font-size="7.9" text-anchor="end" font-weight="normal" fill="#4d4d4d" stroke="#4d4d4d" stroke-width="0.18" >100</text>
<rect x="44.80" y="672.91" width="43.30" height="24.79" fill="#a3c3e2" />
<rect x="44.80" y="648.12" width="43.30" height="24.79" fill="#7b9ccf" />
<rect x="44.80" y="573.75" width="43.30" height="74.37" fill="#f3c330" />
<line x1="66.45" y1="704.00" x2="66.45" y2="706.00" stroke="#444" stroke-width="0.7" />
<text x="66.45" y="713.05" font-size="7.7" text-anchor="middle" font-weight="normal" fill="#4d4d4d" stroke="#4d4d4d" stroke-width="0.18" >PR</text>
<rect x="93.30" y="666.71" width="43.60" height="30.99" fill="#dcdcdc" />
<rect x="93.30" y="628.29" width="43.60" height="38.42" fill="#a3c3e2" />
<rect x="93.30" y="597.30" width="43.60" height="30.99" fill="#7b9ccf" />
<rect x="93.30" y="573.75" width="43.60" height="23.55" fill="#f3c330" />
<line x1="115.10" y1="704.00" x2="115.10" y2="706.00" stroke="#444" stroke-width="0.7" />
<text x="115.10" y="713.05" font-size="7.7" text-anchor="middle" font-weight="normal" fill="#4d4d4d" stroke="#4d4d4d" stroke-width="0.18" >SD</text>
<rect x="142.60" y="684.07" width="44.30" height="13.63" fill="#a3c3e2" />
<rect x="142.60" y="670.43" width="44.30" height="13.63" fill="#7b9ccf" />
<rect x="142.60" y="573.75" width="44.30" height="96.68" fill="#f3c330" />
<line x1="164.75" y1="704.00" x2="164.75" y2="706.00" stroke="#444" stroke-width="0.7" />
<text x="164.75" y="713.05" font-size="7.7" text-anchor="middle" font-weight="normal" fill="#4d4d4d" stroke="#4d4d4d" stroke-width="0.18" >PD</text>
<text x="122.70" y="726.21" font-size="8.75" text-anchor="middle" font-weight="normal" fill="#1a1a1a" stroke="#1a1a1a" stroke-width="0.18" >First radiographic response</text>
<text x="186.50" y="569.51" font-size="7.3" text-anchor="end" font-weight="normal" fill="#1a1a1a" stroke="#1a1a1a" stroke-width="0.18" ><tspan font-style="italic">P</tspan> = 0.123</text>
<text transform="translate(11.40,635) rotate(-90)" font-size="9" text-anchor="middle" fill="#1a1a1a" stroke="#1a1a1a" stroke-width="0.18">Percentage of cases</text>
<text x="195.50" y="562.80" font-size="19" text-anchor="start" font-weight="bold" fill="#000" stroke="#000" stroke-width="0" >C</text>
<line x1="225.60" y1="566.50" x2="225.60" y2="703.30" stroke="#a8abbd" stroke-width="0.9" />
<line x1="225.60" y1="703.30" x2="381.00" y2="703.30" stroke="#6e6e6e" stroke-width="0.9" />
<line x1="223.60" y1="696.80" x2="225.60" y2="696.80" stroke="#444" stroke-width="0.7" />
<text x="222.60" y="699.92" font-size="7.9" text-anchor="end" font-weight="normal" fill="#4d4d4d" stroke="#4d4d4d" stroke-width="0.18" >0</text>
<line x1="223.60" y1="665.85" x2="225.60" y2="665.85" stroke="#444" stroke-width="0.7" />
<text x="222.60" y="668.97" font-size="7.9" text-anchor="end" font-weight="normal" fill="#4d4d4d" stroke="#4d4d4d" stroke-width="0.18" >25</text>
<line x1="223.60" y1="634.90" x2="225.60" y2="634.90" stroke="#444" stroke-width="0.7" />
<text x="222.60" y="638.02" font-size="7.9" text-anchor="end" font-weight="normal" fill="#4d4d4d" stroke="#4d4d4d" stroke-width="0.18" >50</text>
<line x1="223.60" y1="603.95" x2="225.60" y2="603.95" stroke="#444" stroke-width="0.7" />
<text x="222.60" y="607.07" font-size="7.9" text-anchor="end" font-weight="normal" fill="#4d4d4d" stroke="#4d4d4d" stroke-width="0.18" >75</text>
<line x1="223.60" y1="573.00" x2="225.60" y2="573.00" stroke="#444" stroke-width="0.7" />
<text x="222.60" y="576.12" font-size="7.9" text-anchor="end" font-weight="normal" fill="#4d4d4d" stroke="#4d4d4d" stroke-width="0.18" >100</text>
<rect x="231.60" y="634.90" width="32.80" height="61.90" fill="#7b9ccf" />
<rect x="231.60" y="573.00" width="32.80" height="61.90" fill="#f3c330" />
<line x1="248.00" y1="703.30" x2="248.00" y2="705.30" stroke="#444" stroke-width="0.7" />
<text x="248.00" y="711.95" font-size="7.7" text-anchor="middle" font-weight="normal" fill="#4d4d4d" stroke="#4d4d4d" stroke-width="0.18" >CR</text>
<rect x="269.00" y="634.90" width="32.60" height="61.90" fill="#a3c3e2" />
<rect x="269.00" y="573.00" width="32.60" height="61.90" fill="#f3c330" />
<line x1="285.30" y1="703.30" x2="285.30" y2="705.30" stroke="#444" stroke-width="0.7" />
<text x="285.30" y="711.95" font-size="7.7" text-anchor="middle" font-weight="normal" fill="#4d4d4d" stroke="#4d4d4d" stroke-width="0.18" >PR</text>
<rect x="305.80" y="663.37" width="32.60" height="33.43" fill="#dcdcdc" />
<rect x="305.80" y="629.95" width="32.60" height="33.43" fill="#a3c3e2" />
<rect x="305.80" y="597.76" width="32.60" height="32.19" fill="#7b9ccf" />
<rect x="305.80" y="573.00" width="32.60" height="24.76" fill="#f3c330" />
<line x1="322.10" y1="703.30" x2="322.10" y2="705.30" stroke="#444" stroke-width="0.7" />
<text x="322.10" y="711.95" font-size="7.7" text-anchor="middle" font-weight="normal" fill="#4d4d4d" stroke="#4d4d4d" stroke-width="0.18" >SD</text>
<rect x="343.20" y="679.47" width="32.70" height="17.33" fill="#7b9ccf" />
<rect x="343.20" y="573.00" width="32.70" height="106.47" fill="#f3c330" />
<line x1="359.55" y1="703.30" x2="359.55" y2="705.30" stroke="#444" stroke-width="0.7" />
<text x="359.55" y="711.95" font-size="7.7" text-anchor="middle" font-weight="normal" fill="#4d4d4d" stroke="#4d4d4d" stroke-width="0.18" >PD</text>
<text x="300.00" y="726.21" font-size="8.75" text-anchor="middle" font-weight="normal" fill="#1a1a1a" stroke="#1a1a1a" stroke-width="0.18" >Best radiographic response</text>
<text x="375.50" y="568.51" font-size="7.3" text-anchor="end" font-weight="normal" fill="#1a1a1a" stroke="#1a1a1a" stroke-width="0.18" ><tspan font-style="italic">P</tspan> = 0.056</text>
<text transform="translate(207.30,635) rotate(-90)" font-size="9" text-anchor="middle" fill="#1a1a1a" stroke="#1a1a1a" stroke-width="0.18">Percentage of cases</text>
<text x="385.50" y="562.80" font-size="19" text-anchor="start" font-weight="bold" fill="#000" stroke="#000" stroke-width="0" >D</text>
<line x1="413.30" y1="566.00" x2="413.30" y2="702.80" stroke="#a8abbd" stroke-width="0.9" />
<line x1="413.30" y1="702.80" x2="515.20" y2="702.80" stroke="#6e6e6e" stroke-width="0.9" />
<line x1="411.30" y1="696.10" x2="413.30" y2="696.10" stroke="#444" stroke-width="0.7" />
<text x="410.30" y="699.22" font-size="7.9" text-anchor="end" font-weight="normal" fill="#4d4d4d" stroke="#4d4d4d" stroke-width="0.18" >0</text>
<line x1="411.30" y1="665.20" x2="413.30" y2="665.20" stroke="#444" stroke-width="0.7" />
<text x="410.30" y="668.32" font-size="7.9" text-anchor="end" font-weight="normal" fill="#4d4d4d" stroke="#4d4d4d" stroke-width="0.18" >25</text>
<line x1="411.30" y1="634.30" x2="413.30" y2="634.30" stroke="#444" stroke-width="0.7" />
<text x="410.30" y="637.42" font-size="7.9" text-anchor="end" font-weight="normal" fill="#4d4d4d" stroke="#4d4d4d" stroke-width="0.18" >50</text>
<line x1="411.30" y1="603.40" x2="413.30" y2="603.40" stroke="#444" stroke-width="0.7" />
<text x="410.30" y="606.52" font-size="7.9" text-anchor="end" font-weight="normal" fill="#4d4d4d" stroke="#4d4d4d" stroke-width="0.18" >75</text>
<line x1="411.30" y1="572.50" x2="413.30" y2="572.50" stroke="#444" stroke-width="0.7" />
<text x="410.30" y="575.62" font-size="7.9" text-anchor="end" font-weight="normal" fill="#4d4d4d" stroke="#4d4d4d" stroke-width="0.18" >100</text>
<rect x="423.20" y="667.05" width="36.20" height="29.05" fill="#dcdcdc" />
<rect x="423.20" y="623.05" width="36.20" height="44.00" fill="#a3c3e2" />
<rect x="423.20" y="594.38" width="36.20" height="28.68" fill="#7b9ccf" />
<rect x="423.20" y="572.50" width="36.20" height="21.88" fill="#f3c330" />
<line x1="441.30" y1="702.80" x2="441.30" y2="704.80" stroke="#444" stroke-width="0.7" />
<text x="441.30" y="711.45" font-size="7.7" text-anchor="middle" font-weight="normal" fill="#4d4d4d" stroke="#4d4d4d" stroke-width="0.18" >DCB</text>
<rect x="470.60" y="686.21" width="36.30" height="9.89" fill="#a3c3e2" />
<rect x="470.60" y="667.67" width="36.30" height="18.54" fill="#7b9ccf" />
<rect x="470.60" y="572.50" width="36.30" height="95.17" fill="#f3c330" />
<line x1="488.75" y1="702.80" x2="488.75" y2="704.80" stroke="#444" stroke-width="0.7" />
<text x="488.75" y="711.45" font-size="7.7" text-anchor="middle" font-weight="normal" fill="#4d4d4d" stroke="#4d4d4d" stroke-width="0.18" >NDB</text>
<text x="462.30" y="726.21" font-size="8.75" text-anchor="middle" font-weight="normal" fill="#1a1a1a" stroke="#1a1a1a" stroke-width="0.18" >Clinical benefit</text>
<text x="509.90" y="567.81" font-size="7.3" text-anchor="end" font-weight="normal" fill="#1a1a1a" stroke="#1a1a1a" stroke-width="0.18" ><tspan font-style="italic">P</tspan> = 0.006</text>
<text transform="translate(394.70,635) rotate(-90)" font-size="9" text-anchor="middle" fill="#1a1a1a" stroke="#1a1a1a" stroke-width="0.18">Percentage of cases</text>
<rect x="202.10" y="734.70" width="7.00" height="7.00" fill="#f3c330" />
<text x="211.70" y="740.44" font-size="6.5" text-anchor="start" font-weight="normal" fill="#1a1a1a" stroke="#1a1a1a" stroke-width="0.18" >mPD</text>
<rect x="240.20" y="734.70" width="7.00" height="7.00" fill="#7b9ccf" />
<text x="249.80" y="740.44" font-size="6.5" text-anchor="start" font-weight="normal" fill="#1a1a1a" stroke="#1a1a1a" stroke-width="0.18" >mR</text>
<rect x="275.00" y="734.70" width="7.00" height="7.00" fill="#a3c3e2" />
<text x="284.60" y="740.44" font-size="6.5" text-anchor="start" font-weight="normal" fill="#1a1a1a" stroke="#1a1a1a" stroke-width="0.18" >mR f/b REC/EM</text>
<rect x="344.20" y="734.70" width="7.00" height="7.00" fill="#dcdcdc" />
<text x="353.80" y="740.44" font-size="6.5" text-anchor="start" font-weight="normal" fill="#1a1a1a" stroke="#1a1a1a" stroke-width="0.18" >Undetectable</text>
<text x="1.50" y="773.00" font-size="18.5" text-anchor="start" font-weight="bold" fill="#000" stroke="#000" stroke-width="0" >E</text>
<line x1="36.70" y1="798.00" x2="36.70" y2="946.00" stroke="#8a8a8a" stroke-width="0.9" />
<line x1="36.70" y1="946.00" x2="246.30" y2="946.00" stroke="#8a8a8a" stroke-width="0.9" />
<line x1="34.70" y1="940.00" x2="36.70" y2="940.00" stroke="#444" stroke-width="0.7" />
<text x="33.50" y="942.72" font-size="7.9" text-anchor="end" font-weight="normal" fill="#4d4d4d" stroke="#4d4d4d" stroke-width="0.18" >0.00</text>
<line x1="34.70" y1="906.02" x2="36.70" y2="906.02" stroke="#444" stroke-width="0.7" />
<text x="33.50" y="908.74" font-size="7.9" text-anchor="end" font-weight="normal" fill="#4d4d4d" stroke="#4d4d4d" stroke-width="0.18" >0.25</text>
<line x1="34.70" y1="872.05" x2="36.70" y2="872.05" stroke="#444" stroke-width="0.7" />
<text x="33.50" y="874.77" font-size="7.9" text-anchor="end" font-weight="normal" fill="#4d4d4d" stroke="#4d4d4d" stroke-width="0.18" >0.50</text>
<line x1="34.70" y1="838.08" x2="36.70" y2="838.08" stroke="#444" stroke-width="0.7" />
<text x="33.50" y="840.79" font-size="7.9" text-anchor="end" font-weight="normal" fill="#4d4d4d" stroke="#4d4d4d" stroke-width="0.18" >0.75</text>
<line x1="34.70" y1="804.10" x2="36.70" y2="804.10" stroke="#444" stroke-width="0.7" />
<text x="33.50" y="806.82" font-size="7.9" text-anchor="end" font-weight="normal" fill="#4d4d4d" stroke="#4d4d4d" stroke-width="0.18" >1.00</text>
<line x1="46.50" y1="946.00" x2="46.50" y2="948.00" stroke="#444" stroke-width="0.7" />
<text x="46.50" y="955.32" font-size="7.9" text-anchor="middle" font-weight="normal" fill="#4d4d4d" stroke="#4d4d4d" stroke-width="0.18" >0</text>
<line x1="109.90" y1="946.00" x2="109.90" y2="948.00" stroke="#444" stroke-width="0.7" />
<text x="109.90" y="955.32" font-size="7.9" text-anchor="middle" font-weight="normal" fill="#4d4d4d" stroke="#4d4d4d" stroke-width="0.18" >10</text>
<line x1="173.30" y1="946.00" x2="173.30" y2="948.00" stroke="#444" stroke-width="0.7" />
<text x="173.30" y="955.32" font-size="7.9" text-anchor="middle" font-weight="normal" fill="#4d4d4d" stroke="#4d4d4d" stroke-width="0.18" >20</text>
<line x1="236.70" y1="946.00" x2="236.70" y2="948.00" stroke="#444" stroke-width="0.7" />
<text x="236.70" y="955.32" font-size="7.9" text-anchor="middle" font-weight="normal" fill="#4d4d4d" stroke="#4d4d4d" stroke-width="0.18" >30</text>
<text x="141.50" y="969.30" font-size="9" text-anchor="middle" font-weight="normal" fill="#1a1a1a" stroke="#1a1a1a" stroke-width="0.18" >Time (months)</text>
<path d="M47.5,804.2 H62.5 V814.5 H65.4 V825 H81.2 V835.4 H98.5 V846 H126.5 V856.6 H159.2 V867 H163.8 V877.5 H192.7 V900.5 H225.7" fill="none" stroke="#d3e3ec" stroke-width="1.1"/>
<path d="M47.5,804.2 V814.5 H52.3 V825 H53.7 V835.4 H54.5 V845.9 H55.2 V856.3 H60.1 V866.8 H63.1 V877.2 H64.7 V887.7 H67.7 V898.2 H83.2 V908.6 H109.7 V919.1 H112 V929.5 H160.5 V940" fill="none" stroke="#e6a29e" stroke-width="1.1"/>
<line x1="197.90" y1="898.90" x2="197.90" y2="902.10" stroke="#d3e3ec" stroke-width="0.8" />
<line x1="225.70" y1="898.90" x2="225.70" y2="902.10" stroke="#d3e3ec" stroke-width="0.8" />
<line x1="173.50" y1="807.30" x2="180.30" y2="807.30" stroke="#e06a60" stroke-width="1.1" />
<line x1="176.90" y1="805.30" x2="176.90" y2="809.30" stroke="#e06a60" stroke-width="0.9" />
<text x="181.70" y="809.74" font-size="7.1" text-anchor="start" font-weight="normal" fill="#1a1a1a" stroke="#1a1a1a" stroke-width="0.18" >No cfTL clearance</text>
<line x1="173.50" y1="818.60" x2="180.30" y2="818.60" stroke="#c9dde8" stroke-width="1.1" />
<text x="181.70" y="821.04" font-size="7.1" text-anchor="start" font-weight="normal" fill="#1a1a1a" stroke="#1a1a1a" stroke-width="0.18" >cfTL clearance</text>
<text x="158.90" y="923.07" font-size="6.9" text-anchor="end" font-weight="normal" fill="#1a1a1a" stroke="#1a1a1a" stroke-width="0.18" ><tspan font-style="italic">N</tspan> = 13</text>
<text x="225.70" y="891.97" font-size="6.9" text-anchor="end" font-weight="normal" fill="#1a1a1a" stroke="#1a1a1a" stroke-width="0.18" ><tspan font-style="italic">N</tspan> = 13</text>
<text x="237.80" y="936.24" font-size="7.1" text-anchor="end" font-weight="bold" fill="#1a1a1a" stroke="#1a1a1a" stroke-width="0.18" ><tspan font-style="italic">P</tspan> = 0.0003</text>
<text transform="translate(11.42,870.5) rotate(-90)" font-size="10.4" text-anchor="middle" fill="#1a1a1a">Progression&#8722;free survival (probability)</text>
<text x="267.50" y="773.00" font-size="18.5" text-anchor="start" font-weight="bold" fill="#000" stroke="#000" stroke-width="0" >F</text>
<line x1="303.00" y1="798.00" x2="303.00" y2="946.00" stroke="#8a8a8a" stroke-width="0.9" />
<line x1="303.00" y1="946.00" x2="512.30" y2="946.00" stroke="#8a8a8a" stroke-width="0.9" />
<line x1="301.00" y1="940.00" x2="303.00" y2="940.00" stroke="#444" stroke-width="0.7" />
<text x="299.80" y="942.72" font-size="7.9" text-anchor="end" font-weight="normal" fill="#4d4d4d" stroke="#4d4d4d" stroke-width="0.18" >0.00</text>
<line x1="301.00" y1="906.02" x2="303.00" y2="906.02" stroke="#444" stroke-width="0.7" />
<text x="299.80" y="908.74" font-size="7.9" text-anchor="end" font-weight="normal" fill="#4d4d4d" stroke="#4d4d4d" stroke-width="0.18" >0.25</text>
<line x1="301.00" y1="872.05" x2="303.00" y2="872.05" stroke="#444" stroke-width="0.7" />
<text x="299.80" y="874.77" font-size="7.9" text-anchor="end" font-weight="normal" fill="#4d4d4d" stroke="#4d4d4d" stroke-width="0.18" >0.50</text>
<line x1="301.00" y1="838.08" x2="303.00" y2="838.08" stroke="#444" stroke-width="0.7" />
<text x="299.80" y="840.79" font-size="7.9" text-anchor="end" font-weight="normal" fill="#4d4d4d" stroke="#4d4d4d" stroke-width="0.18" >0.75</text>
<line x1="301.00" y1="804.10" x2="303.00" y2="804.10" stroke="#444" stroke-width="0.7" />
<text x="299.80" y="806.82" font-size="7.9" text-anchor="end" font-weight="normal" fill="#4d4d4d" stroke="#4d4d4d" stroke-width="0.18" >1.00</text>
<line x1="313.30" y1="946.00" x2="313.30" y2="948.00" stroke="#444" stroke-width="0.7" />
<text x="313.30" y="955.32" font-size="7.9" text-anchor="middle" font-weight="normal" fill="#4d4d4d" stroke="#4d4d4d" stroke-width="0.18" >0</text>
<line x1="376.10" y1="946.00" x2="376.10" y2="948.00" stroke="#444" stroke-width="0.7" />
<text x="376.10" y="955.32" font-size="7.9" text-anchor="middle" font-weight="normal" fill="#4d4d4d" stroke="#4d4d4d" stroke-width="0.18" >10</text>
<line x1="438.90" y1="946.00" x2="438.90" y2="948.00" stroke="#444" stroke-width="0.7" />
<text x="438.90" y="955.32" font-size="7.9" text-anchor="middle" font-weight="normal" fill="#4d4d4d" stroke="#4d4d4d" stroke-width="0.18" >20</text>
<line x1="501.70" y1="946.00" x2="501.70" y2="948.00" stroke="#444" stroke-width="0.7" />
<text x="501.70" y="955.32" font-size="7.9" text-anchor="middle" font-weight="normal" fill="#4d4d4d" stroke="#4d4d4d" stroke-width="0.18" >30</text>
<text x="407.65" y="969.30" font-size="9" text-anchor="middle" font-weight="normal" fill="#1a1a1a" stroke="#1a1a1a" stroke-width="0.18" >Time (months)</text>
<path d="M312.5,803.9 H335 V814.4 H369.25 V824.9 H375.9 V835.6 H400.4 V847.1 H430.3 V858.8 H458.5 V875.1 H492.3" fill="none" stroke="#d3e3ec" stroke-width="1.1"/>
<path d="M312.5,803.9 H326.75 V824.9 H331.8 V845.5 H337.6 V855.8 H346.6 V866.2 H348.5 V876.7 H350.8 V887.2 H352.4 V908 H475.7" fill="none" stroke="#e6a29e" stroke-width="1.1"/>
<line x1="403.80" y1="906.40" x2="403.80" y2="909.60" stroke="#e6a29e" stroke-width="0.8" />
<line x1="438.30" y1="906.40" x2="438.30" y2="909.60" stroke="#e6a29e" stroke-width="0.8" />
<line x1="475.70" y1="906.40" x2="475.70" y2="909.60" stroke="#e6a29e" stroke-width="0.8" />
<line x1="465.40" y1="873.50" x2="465.40" y2="876.70" stroke="#d3e3ec" stroke-width="0.8" />
<line x1="492.30" y1="873.50" x2="492.30" y2="876.70" stroke="#d3e3ec" stroke-width="0.8" />
<line x1="435.80" y1="805.00" x2="442.60" y2="805.00" stroke="#e06a60" stroke-width="1.1" />
<line x1="439.20" y1="803.00" x2="439.20" y2="807.00" stroke="#e06a60" stroke-width="0.9" />
<text x="444.00" y="807.44" font-size="7.1" text-anchor="start" font-weight="normal" fill="#1a1a1a" stroke="#1a1a1a" stroke-width="0.18" >No cfTL clearance</text>
<line x1="435.80" y1="816.30" x2="442.60" y2="816.30" stroke="#c9dde8" stroke-width="1.1" />
<text x="444.00" y="818.74" font-size="7.1" text-anchor="start" font-weight="normal" fill="#1a1a1a" stroke="#1a1a1a" stroke-width="0.18" >cfTL clearance</text>
<text x="475.40" y="901.57" font-size="6.9" text-anchor="end" font-weight="normal" fill="#1a1a1a" stroke="#1a1a1a" stroke-width="0.18" ><tspan font-style="italic">N</tspan> = 13</text>
<text x="492.30" y="866.17" font-size="6.9" text-anchor="end" font-weight="normal" fill="#1a1a1a" stroke="#1a1a1a" stroke-width="0.18" ><tspan font-style="italic">N</tspan> = 13</text>
<text x="493.80" y="931.94" font-size="7.1" text-anchor="end" font-weight="bold" fill="#1a1a1a" stroke="#1a1a1a" stroke-width="0.18" ><tspan font-style="italic">P</tspan> = 0.01</text>
<text transform="translate(273.82,863.3) rotate(-90)" font-size="9.4" text-anchor="middle" fill="#1a1a1a">Overall survival (probability)</text>
</svg></body></html>
